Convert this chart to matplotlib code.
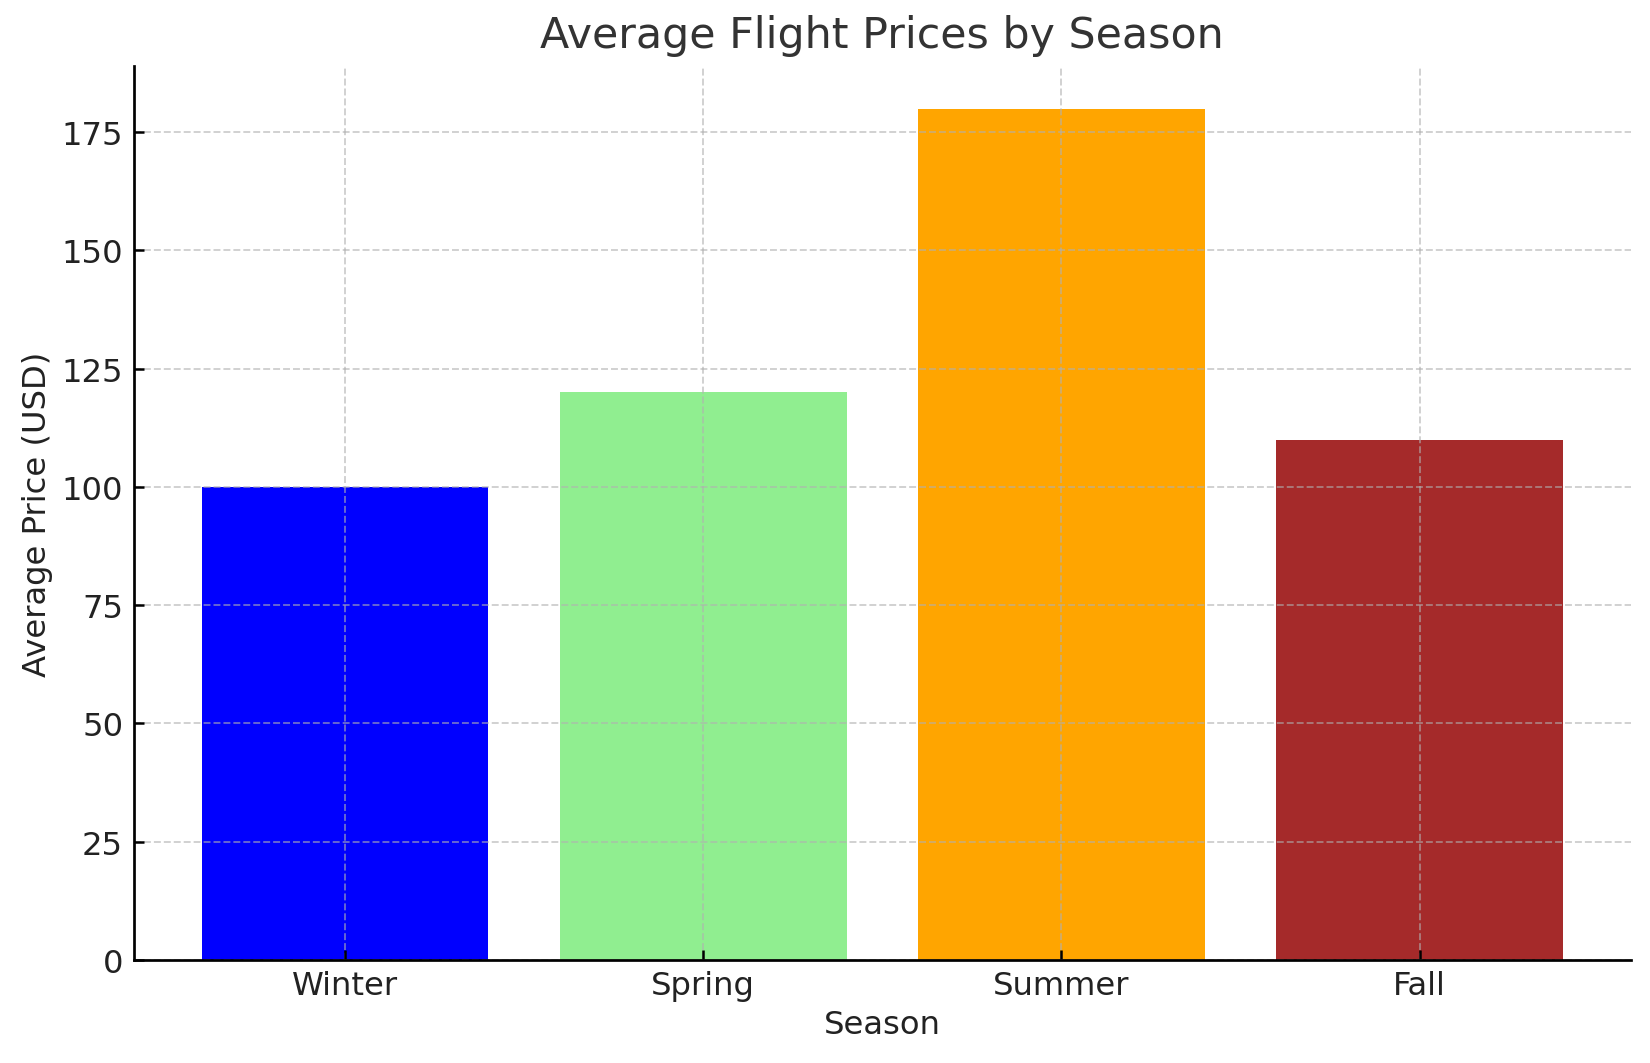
import matplotlib
matplotlib.use("Agg")
import matplotlib.pyplot as plt

# Data
seasons = ["Winter", "Spring", "Summer", "Fall"]
prices = [100, 120, 180, 110]
bar_colors = ["blue", "lightgreen", "orange", "brown"]

fig = plt.figure(figsize=(11, 7.093), dpi=150)
ax = fig.add_axes([0.081, 0.097, 0.9075, 0.840])

ax.bar(seasons, prices, color=bar_colors, width=0.8, zorder=1)

ax.set_title("Average Flight Prices by Season", fontsize=20.5, color="#333333", pad=9)
ax.set_xlabel("Season", fontsize=15.5, color="#222222", labelpad=4)
ax.set_ylabel("Average Price (USD)", fontsize=15.5, color="#222222", labelpad=4)

ax.grid(True, linestyle="--", color="#b0b0b0", alpha=0.6, linewidth=0.9, zorder=2)
ax.set_axisbelow(False)
ax.tick_params(direction="in", labelsize=15.5, length=5, width=1.2, colors="black",
               labelcolor="#222222", pad=5)
for side in ["top", "right"]:
    ax.spines[side].set_visible(False)
for side in ["left", "bottom"]:
    ax.spines[side].set_linewidth(1.3)
    ax.spines[side].set_zorder(3)

fig.savefig("out.png", dpi=150)
